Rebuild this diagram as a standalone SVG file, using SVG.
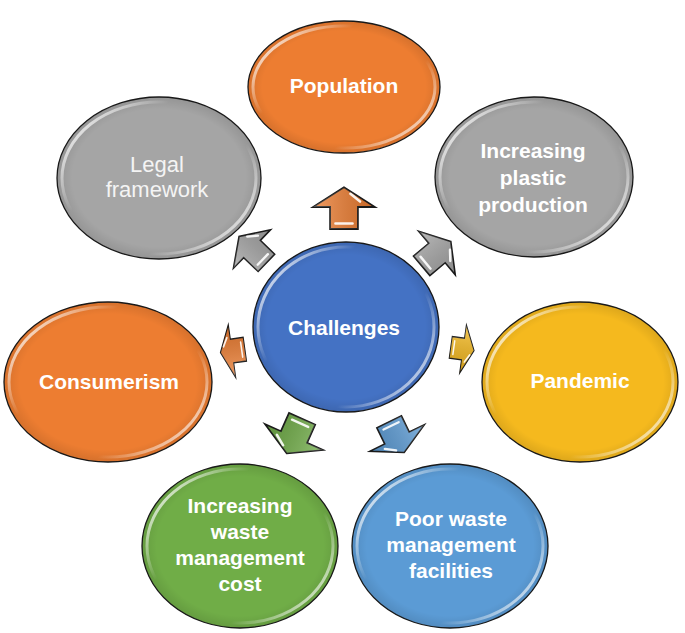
<svg xmlns="http://www.w3.org/2000/svg" xmlns:xlink="http://www.w3.org/1999/xlink" width="685" height="633" viewBox="0 0 685 633">
<style>
.node{stroke:#1a1a1a;stroke-width:1.3}
.gloss{fill:none;stroke:url(#gloss);stroke-width:3}
.shade{fill:url(#shade);stroke:none}
.lbl{font-family:"Liberation Sans",Arial,sans-serif;font-weight:bold;font-size:21px;fill:#ffffff;text-anchor:middle}
.lblr{font-family:"Liberation Sans",Arial,sans-serif;font-size:22px;fill:#f4f4f4;text-anchor:middle}
.arr{stroke:#1a1a1a;stroke-width:1.6;stroke-linejoin:miter}
.hl{fill:none;stroke:#ffffff;stroke-width:2.4;stroke-linecap:round;opacity:0.9}
</style>
<defs>
<linearGradient id="gloss" x1="0" y1="0.15" x2="1" y2="0.85">
<stop offset="0" stop-color="#fff" stop-opacity="0.95"/>
<stop offset="0.3" stop-color="#fff" stop-opacity="0"/>
<stop offset="0.7" stop-color="#fff" stop-opacity="0"/>
<stop offset="1" stop-color="#fff" stop-opacity="0.85"/>
</linearGradient>
<radialGradient id="shade" cx="0.5" cy="0.5" r="0.5">
<stop offset="0.85" stop-color="#000" stop-opacity="0"/>
<stop offset="1" stop-color="#000" stop-opacity="0.1"/>
</radialGradient>
<linearGradient id="ashade" x1="0" y1="0" x2="0" y2="1">
<stop offset="0" stop-color="#fff" stop-opacity="0.25"/>
<stop offset="1" stop-color="#000" stop-opacity="0.15"/>
</linearGradient>
<path id="arrow" d="M18,0 L0,-29 L0,-13 L-20,-13 L-20,13 L0,13 L0,29 Z"/>
</defs>

<g id="connectors">
<g id="arrow-population" transform="translate(344,207) rotate(-90) scale(1.1,1.07)">
<use xlink:href="#arrow" class="arr" fill="#ED7D31"/>
<use xlink:href="#arrow" fill="url(#ashade)"/>
<path class="hl" d="M12,6 L5,15 M-15,-8 L-15,8"/>
</g>
<g id="arrow-plastic" transform="translate(437,253) rotate(-40) scale(1,0.98)">
<use xlink:href="#arrow" class="arr" fill="#A5A5A5"/>
<use xlink:href="#arrow" fill="url(#ashade)"/>
<path class="hl" d="M12,6 L5,15 M-15,-8 L-15,8"/>
</g>
<g id="arrow-legal" transform="translate(252,249) rotate(-136) scale(1,0.92)">
<use xlink:href="#arrow" class="arr" fill="#A5A5A5"/>
<use xlink:href="#arrow" fill="url(#ashade)"/>
<path class="hl" d="M12,6 L5,15 M-15,-8 L-15,8"/>
</g>
<g id="arrow-pandemic" transform="translate(463,349) rotate(8) scale(0.62,0.84)">
<use xlink:href="#arrow" class="arr" fill="#F5B91E"/>
<use xlink:href="#arrow" fill="url(#ashade)"/>
<path class="hl" d="M12,6 L5,15 M-15,-8 L-15,8"/>
</g>
<g id="arrow-consumerism" transform="translate(232,351) rotate(172) scale(0.65,0.92)">
<use xlink:href="#arrow" class="arr" fill="#ED7D31"/>
<use xlink:href="#arrow" fill="url(#ashade)"/>
<path class="hl" d="M12,6 L5,15 M-15,-8 L-15,8"/>
</g>
<g id="arrow-cost" transform="translate(294,437) rotate(114) scale(1,1.1)">
<use xlink:href="#arrow" class="arr" fill="#70AD47"/>
<use xlink:href="#arrow" fill="url(#ashade)"/>
<path class="hl" d="M12,6 L5,15 M-15,-8 L-15,8"/>
</g>
<g id="arrow-facilities" transform="translate(397,438) rotate(64) scale(0.9,1.05)">
<use xlink:href="#arrow" class="arr" fill="#5B9BD5"/>
<use xlink:href="#arrow" fill="url(#ashade)"/>
<path class="hl" d="M12,6 L5,15 M-15,-8 L-15,8"/>
</g>
</g>

<g id="population">
<ellipse class="node" cx="344" cy="87" rx="96" ry="66" fill="#ED7D31"/>
<ellipse class="shade" cx="344" cy="87" rx="96" ry="66"/>
<ellipse class="gloss" cx="344" cy="87" rx="91" ry="61"/>
<text class="lbl" x="344" y="93">Population</text>
</g>

<g id="legal">
<ellipse class="node" cx="159" cy="178" rx="102" ry="81" fill="#A5A5A5"/>
<ellipse class="shade" cx="159" cy="178" rx="102" ry="81"/>
<ellipse class="gloss" cx="159" cy="178" rx="97" ry="76"/>
<text class="lblr" x="157" y="172">Legal</text>
<text class="lblr" x="157" y="197">framework</text>
</g>

<g id="plastic">
<ellipse class="node" cx="534" cy="177" rx="99" ry="80" fill="#A5A5A5"/>
<ellipse class="shade" cx="534" cy="177" rx="99" ry="80"/>
<ellipse class="gloss" cx="534" cy="177" rx="94" ry="75"/>
<text class="lbl" x="533" y="158">Increasing</text>
<text class="lbl" x="533" y="185">plastic</text>
<text class="lbl" x="533" y="212">production</text>
</g>

<g id="consumerism">
<ellipse class="node" cx="108" cy="382" rx="104" ry="80" fill="#ED7D31"/>
<ellipse class="shade" cx="108" cy="382" rx="104" ry="80"/>
<ellipse class="gloss" cx="108" cy="382" rx="99" ry="75"/>
<text class="lbl" x="109" y="389">Consumerism</text>
</g>

<g id="pandemic">
<ellipse class="node" cx="580" cy="382" rx="98" ry="80" fill="#F5B91E"/>
<ellipse class="shade" cx="580" cy="382" rx="98" ry="80"/>
<ellipse class="gloss" cx="580" cy="382" rx="93" ry="75"/>
<text class="lbl" x="580" y="388">Pandemic</text>
</g>

<g id="challenges">
<ellipse class="node" cx="346" cy="327" rx="93" ry="85" fill="#4472C4"/>
<ellipse class="shade" cx="346" cy="327" rx="93" ry="85"/>
<ellipse class="gloss" cx="346" cy="327" rx="88" ry="80"/>
<text class="lbl" x="344" y="335">Challenges</text>
</g>

<g id="cost">
<ellipse class="node" cx="240" cy="546" rx="98" ry="82" fill="#70AD47"/>
<ellipse class="shade" cx="240" cy="546" rx="98" ry="82"/>
<ellipse class="gloss" cx="240" cy="546" rx="93" ry="77"/>
<text class="lbl" x="240" y="513">Increasing</text>
<text class="lbl" x="240" y="539">waste</text>
<text class="lbl" x="240" y="565">management</text>
<text class="lbl" x="240" y="591">cost</text>
</g>

<g id="facilities">
<ellipse class="node" cx="450" cy="546" rx="98" ry="82" fill="#5B9BD5"/>
<ellipse class="shade" cx="450" cy="546" rx="98" ry="82"/>
<ellipse class="gloss" cx="450" cy="546" rx="93" ry="77"/>
<text class="lbl" x="451" y="526">Poor waste</text>
<text class="lbl" x="451" y="552">management</text>
<text class="lbl" x="451" y="578">facilities</text>
</g>
</svg>
